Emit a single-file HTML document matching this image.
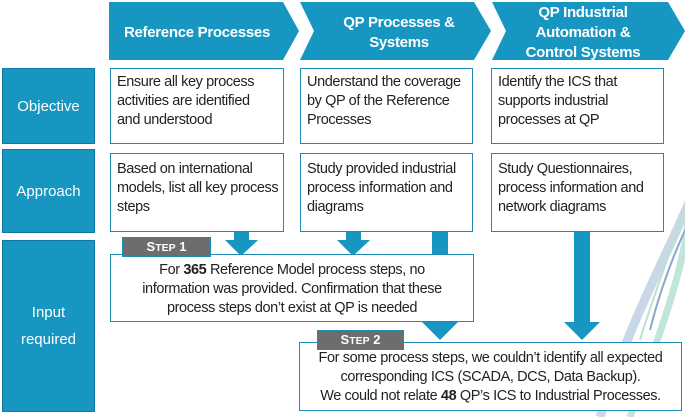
<!DOCTYPE html>
<html><head><style>
body{margin:0;width:685px;height:417px;background:#fff;position:relative;overflow:hidden;font-family:"Liberation Sans",sans-serif;}
.a{position:absolute;box-sizing:border-box}
.lab{background:#1796c1;border:1px solid #0e7aa0;color:#fff;font-size:15px;display:flex;align-items:center;justify-content:center;text-align:center;line-height:27px}
.box{background:#fff;border:1.5px solid #1d8cb5;font-size:14.5px;letter-spacing:-0.4px;line-height:19px;padding:4px 6px;color:#222;white-space:nowrap}
.step{background:#6d6d6d;border:1.5px solid #1d8cb5;color:#fff;font-weight:bold;font-size:13px;text-align:center;line-height:18px}
.c{text-align:center;padding-top:6px;padding-left:0;padding-right:0}
</style></head><body>
<svg class="a" style="left:0;top:0" width="685" height="417">
<path d="M630 417 C660 330 700 240 690 150" stroke="#bfe6d8" stroke-width="7" fill="none"/>
<path d="M600 417 C630 320 665 260 690 200" stroke="#c8d8e6" stroke-width="9" fill="none"/>
<path d="M650 330 C660 290 675 250 690 220" stroke="#8aa8cc" stroke-width="2" fill="none"/>
<path d="M640 340 C655 290 675 240 692 190" stroke="#b9e2cf" stroke-width="2" fill="none"/>
<polygon points="109,2 283,2 299,31 283,60 109,60" fill="#1796c1"/>
<polygon points="300,2 474,2 491,31 474,60 300,60 314,31" fill="#1796c1"/>
<polygon points="492,2 668,2 685,31 668,60 492,60 506,31" fill="#1796c1"/>
<g fill="#1796c1">
<rect x="234" y="232" width="15" height="10"/><polygon points="225,240 258,240 241,256"/>
<rect x="346" y="232" width="15" height="10"/><polygon points="337,240 370,240 353,256"/>
<rect x="432" y="232" width="16" height="94"/><polygon points="422,322 458,322 440,340"/>
<rect x="574" y="232" width="16" height="94"/><polygon points="564,322 600,322 582,340"/>
</g>
<g fill="#fff" font-size="15" font-weight="bold" text-anchor="middle" font-family="Liberation Sans" letter-spacing="-0.3">
<text x="197" y="37">Reference Processes</text>
<text x="399" y="27">QP Processes &amp;</text>
<text x="399" y="47">Systems</text>
<text x="583" y="17">QP Industrial</text>
<text x="583" y="37">Automation &amp;</text>
<text x="583" y="57">Control Systems</text>
</g>
</svg>
<div class="a lab" style="left:2px;top:68px;width:93px;height:76px">Objective</div>
<div class="a lab" style="left:2px;top:149px;width:93px;height:84px">Approach</div>
<div class="a lab" style="left:2px;top:240px;width:93px;height:172px">Input<br>required</div>
<div class="a box" style="left:110px;top:68px;width:174px;height:76px">Ensure all key process<br>activities are identified<br>and understood</div>
<div class="a box" style="left:300px;top:68px;width:173px;height:76px">Understand the coverage<br>by QP of the Reference<br>Processes</div>
<div class="a box" style="left:491px;top:68px;width:173px;height:76px">Identify the ICS that<br>supports industrial<br>processes at QP</div>
<div class="a box" style="left:110px;top:153px;width:174px;height:79px;padding-top:6px">Based on international<br>models, list all key process<br>steps</div>
<div class="a box" style="left:300px;top:153px;width:173px;height:79px;padding-top:6px">Study provided industrial<br>process information and<br>diagrams</div>
<div class="a box" style="left:491px;top:153px;width:173px;height:79px;padding-top:6px">Study Questionnaires,<br>process information and<br>network diagrams</div>
<div class="a box c" style="left:110px;top:254px;width:364px;height:68px">For <b>365</b> Reference Model process steps, no<br>information was provided. Confirmation that these<br>process steps don’t exist at QP is needed</div>
<div class="a step" style="left:122px;top:237px;width:89px;height:20px">S<span style="font-size:10.5px">TEP</span> 1</div>
<div class="a box c" style="left:299px;top:342px;width:383px;height:69px">For some process steps, we couldn’t identify all expected<br>corresponding ICS (SCADA, DCS, Data Backup).<br>We could not relate <b>48</b> QP’s ICS to Industrial Processes.</div>
<div class="a step" style="left:317px;top:330px;width:87px;height:20px">S<span style="font-size:10.5px">TEP</span> 2</div>
</body></html>
